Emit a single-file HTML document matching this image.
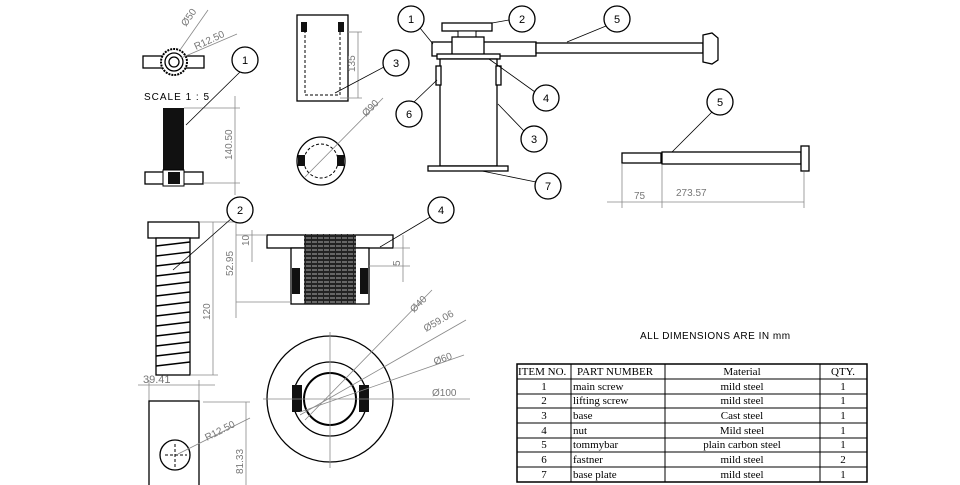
<!DOCTYPE html>
<html><head><meta charset="utf-8"><style>
html,body{margin:0;padding:0;background:#fff;width:960px;height:485px;overflow:hidden}
svg{display:block}
.b{fill:#fff;stroke:#000;stroke-width:1.3}
.d{stroke:#888;stroke-width:0.8;fill:none}
.l{stroke:#000;stroke-width:0.8;fill:none}
.t{font-family:"Liberation Sans",sans-serif;font-size:10px;fill:#777}
.bt{font-family:"Liberation Sans",sans-serif;font-size:11px;fill:#000;text-anchor:middle}
.tb{font-family:"Liberation Serif",serif;font-size:11px;fill:#000}
</style></head><body>
<svg width="960" height="485" viewBox="0 0 960 485" xmlns="http://www.w3.org/2000/svg">
<defs>
<pattern id="h" width="6" height="4" patternUnits="userSpaceOnUse"><rect width="6" height="4" fill="#222"/><line x1="0" y1="2" x2="5" y2="2" stroke="#aaa" stroke-width="1"/></pattern>
</defs>
<!-- top-left view -->
<rect class="b" x="143" y="56" width="61" height="12"/>
<circle cx="174" cy="62" r="13" fill="#fff" stroke="#000" stroke-width="2" stroke-dasharray="2,1"/>
<circle cx="174" cy="62" r="9" class="b"/>
<circle cx="174" cy="62" r="5" class="b"/>
<line class="d" x1="180" y1="50" x2="208" y2="10"/><line class="d" x1="181" y1="58" x2="237" y2="34"/>
<text class="t" transform="translate(186,27) rotate(-55)">Ø50</text>
<text class="t" transform="translate(196,50) rotate(-25)">R12.50</text>
<text x="144" y="100" style="font-family:'Liberation Sans',sans-serif;font-size:10px;letter-spacing:1px">SCALE 1 : 5</text>
<rect x="163" y="108" width="21" height="75" fill="#111"/>
<rect class="b" x="145" y="172" width="58" height="12"/>
<rect x="163" y="170" width="21" height="16" fill="#fff" stroke="#000"/>
<rect x="168" y="172" width="12" height="12" fill="#111"/>
<line class="d" x1="184" y1="108" x2="240" y2="108"/><line class="d" x1="203" y1="183" x2="240" y2="183"/>
<line class="d" x1="235" y1="96" x2="235" y2="195"/>
<text class="t" transform="translate(232,160) rotate(-90)">140.50</text>
<line class="l" x1="186" y1="125" x2="240" y2="72"/>
<circle cx="245" cy="60" r="13" class="b"/><text class="bt" x="245" y="64">1</text>
<!-- base top view -->
<rect class="b" x="297" y="15" width="51" height="86"/>
<rect x="301" y="22" width="6" height="10" fill="#111"/><rect x="338" y="22" width="6" height="10" fill="#111"/>
<path d="M305 30 V95 H340 V30" fill="none" stroke="#000" stroke-dasharray="3,2"/>
<line class="d" x1="348" y1="32" x2="362" y2="32"/><line class="d" x1="340" y1="98" x2="362" y2="98"/>
<line class="d" x1="358" y1="32" x2="358" y2="98"/>
<text class="t" transform="translate(355,72) rotate(-90)">135</text>
<line class="l" x1="335" y1="93" x2="384" y2="67"/>
<circle cx="396" cy="63" r="13" class="b"/><text class="bt" x="396" y="67">3</text>
<circle cx="321" cy="161" r="24" class="b"/>
<circle cx="321" cy="161" r="17" fill="none" stroke="#000" stroke-dasharray="3,2"/>
<rect x="298" y="155" width="7" height="11" fill="#111"/><rect x="337" y="155" width="7" height="11" fill="#111"/>
<line class="d" x1="305" y1="177" x2="383" y2="98"/>
<text class="t" transform="translate(366,117) rotate(-45)">Ø90</text>
<!-- assembly -->
<rect class="b" x="442" y="23" width="50" height="8"/>
<rect x="458" y="31" width="18" height="8" fill="#fff" stroke="#000"/>
<rect class="b" x="432" y="42" width="104" height="14"/>
<rect class="b" x="452" y="37" width="32" height="18"/>
<rect class="b" x="536" y="43" width="167" height="10"/>
<path class="b" d="M703 35 L712 33 L718 38 L718 60 L712 64 L703 62 Z"/>
<rect class="b" x="437" y="54" width="63" height="5"/>
<rect class="b" x="440" y="59" width="57" height="107"/>
<rect class="b" x="436" y="66" width="5" height="19"/><rect class="b" x="496" y="66" width="5" height="19"/>
<rect class="b" x="428" y="166" width="80" height="5"/>
<line class="l" x1="420" y1="28" x2="433" y2="44"/>
<circle cx="411" cy="19" r="13" class="b"/><text class="bt" x="411" y="23">1</text>
<line class="l" x1="492" y1="23" x2="509" y2="20"/>
<circle cx="522" cy="19" r="13" class="b"/><text class="bt" x="522" y="23">2</text>
<line class="l" x1="567" y1="42" x2="606" y2="26"/>
<circle cx="617" cy="19" r="13" class="b"/><text class="bt" x="617" y="23">5</text>
<line class="l" x1="489" y1="59" x2="535" y2="92"/>
<circle cx="546" cy="98" r="13" class="b"/><text class="bt" x="546" y="102">4</text>
<line class="l" x1="437" y1="80" x2="414" y2="102"/>
<circle cx="409" cy="114" r="13" class="b"/><text class="bt" x="409" y="118">6</text>
<line class="l" x1="498" y1="104" x2="524" y2="131"/>
<circle cx="534" cy="139" r="13" class="b"/><text class="bt" x="534" y="143">3</text>
<line class="l" x1="482" y1="171" x2="536" y2="182"/>
<circle cx="548" cy="186" r="13" class="b"/><text class="bt" x="548" y="190">7</text>
<!-- tommy bar side -->
<rect class="b" x="622" y="153" width="39" height="10"/>
<rect class="b" x="662" y="152" width="139" height="12"/>
<rect class="b" x="801" y="146" width="8" height="25"/>
<line class="d" x1="622" y1="164" x2="622" y2="208"/><line class="d" x1="662" y1="165" x2="662" y2="208"/><line class="d" x1="804" y1="172" x2="804" y2="208"/>
<line class="d" x1="607" y1="202" x2="804" y2="202"/>
<text class="t" x="634" y="199">75</text><text class="t" x="676" y="196">273.57</text>
<line class="l" x1="672" y1="152" x2="712" y2="112"/>
<circle cx="720" cy="102" r="13" class="b"/><text class="bt" x="720" y="106">5</text>
<!-- screw 2 -->
<rect class="b" x="148" y="222" width="51" height="16"/>
<rect class="b" x="156" y="238" width="34" height="137"/>
<g stroke="#000" stroke-width="1.4">
<line x1="156" y1="246" x2="190" y2="242"/><line x1="156" y1="256" x2="190" y2="252"/><line x1="156" y1="266" x2="190" y2="262"/><line x1="156" y1="276" x2="190" y2="272"/><line x1="156" y1="286" x2="190" y2="282"/><line x1="156" y1="296" x2="190" y2="292"/><line x1="156" y1="306" x2="190" y2="302"/><line x1="156" y1="316" x2="190" y2="312"/><line x1="156" y1="326" x2="190" y2="322"/><line x1="156" y1="336" x2="190" y2="332"/><line x1="156" y1="346" x2="190" y2="342"/><line x1="156" y1="356" x2="190" y2="352"/><line x1="156" y1="366" x2="190" y2="362"/>
</g>
<line class="d" x1="199" y1="222" x2="240" y2="222"/><line class="d" x1="190" y1="375" x2="218" y2="375"/>
<line class="d" x1="213" y1="222" x2="213" y2="375"/>
<text class="t" transform="translate(210,320) rotate(-90)">120</text>
<line class="d" x1="236" y1="222" x2="236" y2="318"/>
<text class="t" transform="translate(233,276) rotate(-90)">52.95</text>
<line class="d" x1="252" y1="230" x2="252" y2="262"/>
<text class="t" transform="translate(249,246) rotate(-90)">10</text>
<line class="l" x1="173" y1="270" x2="232" y2="218"/>
<circle cx="240" cy="210" r="13" class="b"/><text class="bt" x="240" y="214">2</text>
<!-- nut 4 -->
<rect class="b" x="267" y="235" width="126" height="13"/>
<rect class="b" x="291" y="248" width="78" height="56"/>
<rect x="304" y="234" width="52" height="70" fill="url(#h)"/>
<rect x="292" y="268" width="8" height="26" fill="#111"/><rect x="360" y="268" width="8" height="26" fill="#111"/>
<line class="d" x1="236" y1="302" x2="291" y2="302"/><line class="d" x1="236" y1="235" x2="267" y2="235"/>
<line class="d" x1="369" y1="266" x2="410" y2="266"/><line class="d" x1="393" y1="248" x2="410" y2="248"/>
<line class="d" x1="403" y1="235" x2="403" y2="282"/>
<text class="t" transform="translate(400,266) rotate(-90)">5</text>
<line class="l" x1="380" y1="247" x2="432" y2="216"/>
<circle cx="441" cy="210" r="13" class="b"/><text class="bt" x="441" y="214">4</text>
<!-- circle view -->
<circle cx="330" cy="399" r="63" class="b"/>
<circle cx="330" cy="399" r="37" class="b"/>
<circle cx="330" cy="399" r="26" fill="none" stroke="#000" stroke-width="2"/>
<rect x="292" y="385" width="10" height="27" fill="#111"/><rect x="359" y="385" width="10" height="27" fill="#111"/>
<line class="d" x1="330" y1="332" x2="330" y2="468"/><line class="d" x1="263" y1="399" x2="470" y2="399"/>
<line class="d" x1="305" y1="420" x2="432" y2="290"/>
<line class="d" x1="300" y1="415" x2="466" y2="320"/>
<line class="d" x1="300" y1="412" x2="464" y2="355"/>
<text class="t" transform="translate(414,313) rotate(-45)">Ø40</text>
<text class="t" transform="translate(426,332) rotate(-30)">Ø59.06</text>
<text class="t" transform="translate(435,365) rotate(-20)">Ø60</text>
<text class="t" x="432" y="396">Ø100</text>
<!-- bottom left -->
<line class="d" x1="138" y1="385" x2="215" y2="385"/>
<line class="d" x1="149" y1="380" x2="149" y2="401"/><line class="d" x1="199" y1="380" x2="199" y2="401"/>
<text class="t" x="143" y="383" style="font-size:11px">39.41</text>
<rect class="b" x="149" y="401" width="50" height="90"/>
<circle cx="175" cy="455" r="15" class="b"/>
<line x1="165" y1="455" x2="187" y2="455" stroke="#000" stroke-dasharray="3,2"/><line x1="175" y1="444" x2="175" y2="467" stroke="#000" stroke-dasharray="3,2"/>
<line class="d" x1="178" y1="454" x2="250" y2="418"/>
<text class="t" transform="translate(207,441) rotate(-27)">R12.50</text>
<line class="d" x1="203" y1="402" x2="250" y2="402"/><line class="d" x1="246" y1="402" x2="246" y2="485"/>
<text class="t" transform="translate(243,474) rotate(-90)">81.33</text>
<!-- note -->
<text x="640" y="339" style="font-family:'Liberation Sans',sans-serif;font-size:10px;letter-spacing:0.5px">ALL  DIMENSIONS ARE IN mm</text>
<!-- table -->
<g stroke="#000" stroke-width="1" fill="none">
<rect x="517" y="364" width="350" height="118" stroke-width="1.5"/>
<line x1="517" y1="379" x2="867" y2="379"/><line x1="517" y1="394" x2="867" y2="394"/><line x1="517" y1="408" x2="867" y2="408"/><line x1="517" y1="423" x2="867" y2="423"/><line x1="517" y1="438" x2="867" y2="438"/><line x1="517" y1="452" x2="867" y2="452"/><line x1="517" y1="467" x2="867" y2="467"/>
<line x1="571" y1="364" x2="571" y2="482"/><line x1="665" y1="364" x2="665" y2="482"/><line x1="820" y1="364" x2="820" y2="482"/>
</g>
<g class="tb">
<text x="518" y="375">ITEM NO.</text><text x="577" y="375">PART NUMBER</text><text x="742" y="375" text-anchor="middle">Material</text><text x="843" y="375" text-anchor="middle">QTY.</text>
<text x="544" y="390" text-anchor="middle">1</text><text x="573" y="390">main screw</text><text x="742" y="390" text-anchor="middle">mild steel</text><text x="843" y="390" text-anchor="middle">1</text>
<text x="544" y="404" text-anchor="middle">2</text><text x="573" y="404">lifting screw</text><text x="742" y="404" text-anchor="middle">mild steel</text><text x="843" y="404" text-anchor="middle">1</text>
<text x="544" y="419" text-anchor="middle">3</text><text x="573" y="419">base</text><text x="742" y="419" text-anchor="middle">Cast steel</text><text x="843" y="419" text-anchor="middle">1</text>
<text x="544" y="434" text-anchor="middle">4</text><text x="573" y="434">nut</text><text x="742" y="434" text-anchor="middle">Mild steel</text><text x="843" y="434" text-anchor="middle">1</text>
<text x="544" y="448" text-anchor="middle">5</text><text x="573" y="448">tommybar</text><text x="742" y="448" text-anchor="middle">plain carbon steel</text><text x="843" y="448" text-anchor="middle">1</text>
<text x="544" y="463" text-anchor="middle">6</text><text x="573" y="463">fastner</text><text x="742" y="463" text-anchor="middle">mild steel</text><text x="843" y="463" text-anchor="middle">2</text>
<text x="544" y="478" text-anchor="middle">7</text><text x="573" y="478">base plate</text><text x="742" y="478" text-anchor="middle">mild steel</text><text x="843" y="478" text-anchor="middle">1</text>
</g>
</svg>
</body></html>
